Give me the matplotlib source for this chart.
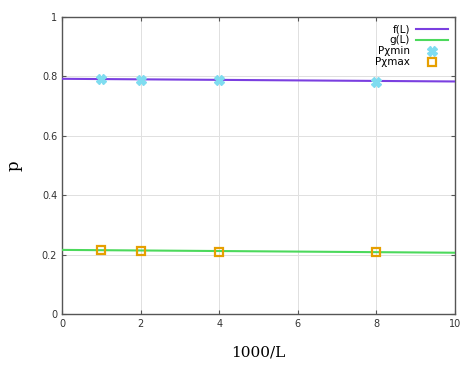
import matplotlib
matplotlib.use("Agg")
import matplotlib.pyplot as plt
import numpy as np

# data
x_line = [0, 10]
f_line = [0.792, 0.783]
g_line = [0.2155, 0.206]
x_pts = [1, 2, 4, 8]
pmin = [0.790, 0.789, 0.788, 0.780]
pmax = [0.215, 0.212, 0.210, 0.207]
xticks = [0, 2, 4, 6, 8, 10]
yticks = [0, 0.2, 0.4, 0.6, 0.8, 1]
yticklabels = ["0", "0.2", "0.4", "0.6", "0.8", "1"]

fig = plt.figure(figsize=(4.74, 3.71), dpi=100)
ax = fig.add_axes([0.131, 0.154, 0.829, 0.80])

ax.plot(x_line, f_line, color="#7a3fe0", lw=1.5, label="f(L)", zorder=3)
ax.plot(x_line, g_line, color="#4cd95c", lw=1.5, label="g(L)", zorder=3)
ax.plot(x_pts, pmin, linestyle="none", marker="X", ms=6.5, color="#7fdcf0",
        markeredgecolor="#7fdcf0", label="Pχmin", zorder=4)
ax.plot(x_pts, pmax, linestyle="none", marker="s", ms=5.5, markerfacecolor="none",
        markeredgecolor="#e69f00", markeredgewidth=1.6, label="Pχmax", zorder=4)

ax.set_xlim(0, 10)
ax.set_ylim(0, 1)
ax.set_xticks(xticks)
ax.set_yticks(yticks)
ax.set_yticklabels(yticklabels)
ax.tick_params(direction="in", top=True, right=True, labelsize=7, length=3,
               color="#555555", labelcolor="#333333")
ax.grid(True, color="#e0e0e0", lw=0.7)
for s in ax.spines.values():
    s.set_color("#555555")
    s.set_linewidth(1.0)

ax.set_xlabel("1000/L", family="DejaVu Serif", fontsize=11, labelpad=12)
ax.set_ylabel("p", family="DejaVu Serif", fontsize=12, labelpad=14)

leg = ax.legend(loc="upper right", markerfirst=False, frameon=False, fontsize=7.5,
                handlelength=3, labelspacing=0.1, borderaxespad=0.3, handletextpad=0.6)

fig.savefig("out.png", dpi=100)
